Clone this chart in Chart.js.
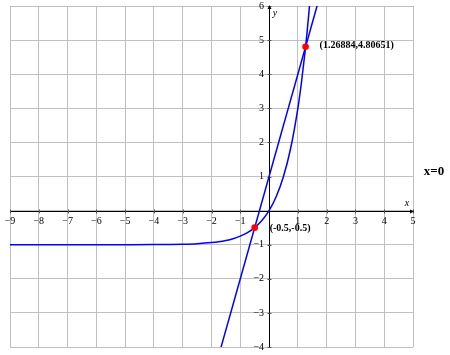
<!DOCTYPE html>
<html><head><meta charset="utf-8">
<script src="https://cdn.jsdelivr.net/npm/chart.js@4"></script>
<style>html,body{margin:0;padding:0;background:#fff}#wrap{width:450px;height:355px}</style>
</head><body><div id="wrap"><canvas id="c" width="450" height="355"></canvas></div>
<script>
// Exponential curve y = 4^x - 1
const curveX = [-9, -8, -7, -6, -5, -4, -3, -2.5, -2, -1.75, -1.5, -1.25, -1, -0.75, -0.5, -0.25, 0, 0.25, 0.5, 0.75, 1, 1.125, 1.25, 1.3125, 1.375, 1.404];
const curveY = [-1.0, -1.0, -0.9999, -0.9998, -0.999, -0.996, -0.984, -0.969, -0.9375, -0.912, -0.875, -0.823, -0.75, -0.646, -0.5, -0.293, 0, 0.414, 1, 1.828, 3, 3.757, 4.657, 5.169, 5.727, 6.0];
// Straight line y = 3x + 1
const lineX = [-2, 2];
const lineY = [-5, 7];
// Intersection points
const ptX = [-0.5, 1.26884];
const ptY = [-0.5, 4.80651];
const ptLabels = ["(-0.5,-0.5)", "(1.26884,4.80651)"];
// Axis ticks
const xTicks = [-9, -8, -7, -6, -5, -4, -3, -2, -1, 1, 2, 3, 4, 5];
const yTicks = [-4, -3, -2, -1, 1, 2, 3, 4, 5, 6];
const sideNote = "x=0";

const zip = (xs, ys) => xs.map((x, i) => ({x, y: ys[i]}));
const fmt = v => v < 0 ? "\u2212" + Math.abs(v) : String(v);
const SERIF = '"Liberation Serif", "DejaVu Serif", serif';

const axesPlugin = {
  id: 'axes',
  beforeDatasetsDraw(chart) {
    const {ctx, scales: {x, y}} = chart;
    const x0 = Math.round(x.getPixelForValue(0)) + 0.5;
    const y0 = Math.round(y.getPixelForValue(0)) + 0.5;
    ctx.save();
    ctx.strokeStyle = '#000'; ctx.lineWidth = 1;
    ctx.beginPath();
    ctx.moveTo(x.left, y0); ctx.lineTo(x.right, y0);
    ctx.moveTo(x0, y.bottom); ctx.lineTo(x0, y.top);
    ctx.stroke();
    // small ticks
    ctx.strokeStyle = '#555';
    ctx.beginPath();
    xTicks.forEach(v => { const p = Math.round(x.getPixelForValue(v)) + 0.5; ctx.moveTo(p, y0 - 2); ctx.lineTo(p, y0 + 2); });
    yTicks.forEach(v => { const p = Math.round(y.getPixelForValue(v)) + 0.5; ctx.moveTo(x0 - 2, p); ctx.lineTo(x0 + 2, p); });
    ctx.stroke();
    // arrow heads
    ctx.fillStyle = '#000';
    ctx.beginPath();
    ctx.moveTo(x.right + 1, y0); ctx.lineTo(x.right - 3, y0 - 2); ctx.lineTo(x.right - 3, y0 + 2); ctx.closePath();
    ctx.moveTo(x0, y.top - 1); ctx.lineTo(x0 - 2, y.top + 3); ctx.lineTo(x0 + 2, y.top + 3); ctx.closePath();
    ctx.fill();
    ctx.restore();
  },
  afterDraw(chart) {
    const {ctx, scales: {x, y}} = chart;
    const x0 = x.getPixelForValue(0);
    const y0 = y.getPixelForValue(0);
    ctx.save();
    ctx.fillStyle = '#000';
    ctx.font = '10px ' + SERIF;
    ctx.textAlign = 'center'; ctx.textBaseline = 'middle';
    xTicks.forEach(v => ctx.fillText(fmt(v), x.getPixelForValue(v), y0 + 11));
    ctx.textAlign = 'right';
    yTicks.forEach(v => ctx.fillText(fmt(v), x0 - 5, y.getPixelForValue(v)));
    // axis names
    ctx.font = 'italic 10px ' + SERIF;
    ctx.textAlign = 'center';
    ctx.fillText('x', x.right - 6, y0 - 7);
    ctx.fillText('y', x0 + 6, y.top + 7);
    // point labels
    ctx.font = 'bold 10px ' + SERIF;
    ctx.textAlign = 'left';
    ctx.fillText(ptLabels[0], x.getPixelForValue(ptX[0]) + 15, y.getPixelForValue(ptY[0]) + 1);
    ctx.fillText(ptLabels[1], x.getPixelForValue(ptX[1]) + 14, y.getPixelForValue(ptY[1]) - 1);
    // side note
    ctx.font = 'bold 13px ' + SERIF;
    ctx.textAlign = 'center';
    ctx.fillText(sideNote, 434, 172);
    ctx.restore();
  }
};

new Chart(document.getElementById('c'), {
  type: 'scatter',
  data: {
    datasets: [
      {data: zip(curveX, curveY), showLine: true, borderColor: '#0000ff', borderWidth: 1.5, pointRadius: 0, cubicInterpolationMode: 'monotone', fill: false, clip: 0, order: 2},
      {data: zip(lineX, lineY), showLine: true, borderColor: '#0000ff', borderWidth: 1.5, pointRadius: 0, fill: false, clip: 0, order: 1},
      {data: zip(ptX, ptY), showLine: false, pointRadius: 3.3, pointBackgroundColor: '#ff0000', pointBorderWidth: 0, pointBorderColor: '#ff0000', borderColor: '#ff0000', order: -1}
    ]
  },
  options: {
    responsive: false, animation: false, events: [],
    layout: {padding: {left: 10, top: 6, right: 37, bottom: 8}},
    plugins: {legend: {display: false}, tooltip: {enabled: false}},
    scales: {
      x: {type: 'linear', min: -9, max: 5, ticks: {display: false, stepSize: 1}, grid: {color: '#c0c0c0', drawTicks: false}, border: {display: false},
          afterFit(s) { s.height = 0; }},
      y: {type: 'linear', min: -4, max: 6, ticks: {display: false, stepSize: 1}, grid: {color: '#c0c0c0', drawTicks: false}, border: {display: false},
          afterFit(s) { s.width = 0; }}
    }
  },
  plugins: [axesPlugin]
});
</script></body></html>
